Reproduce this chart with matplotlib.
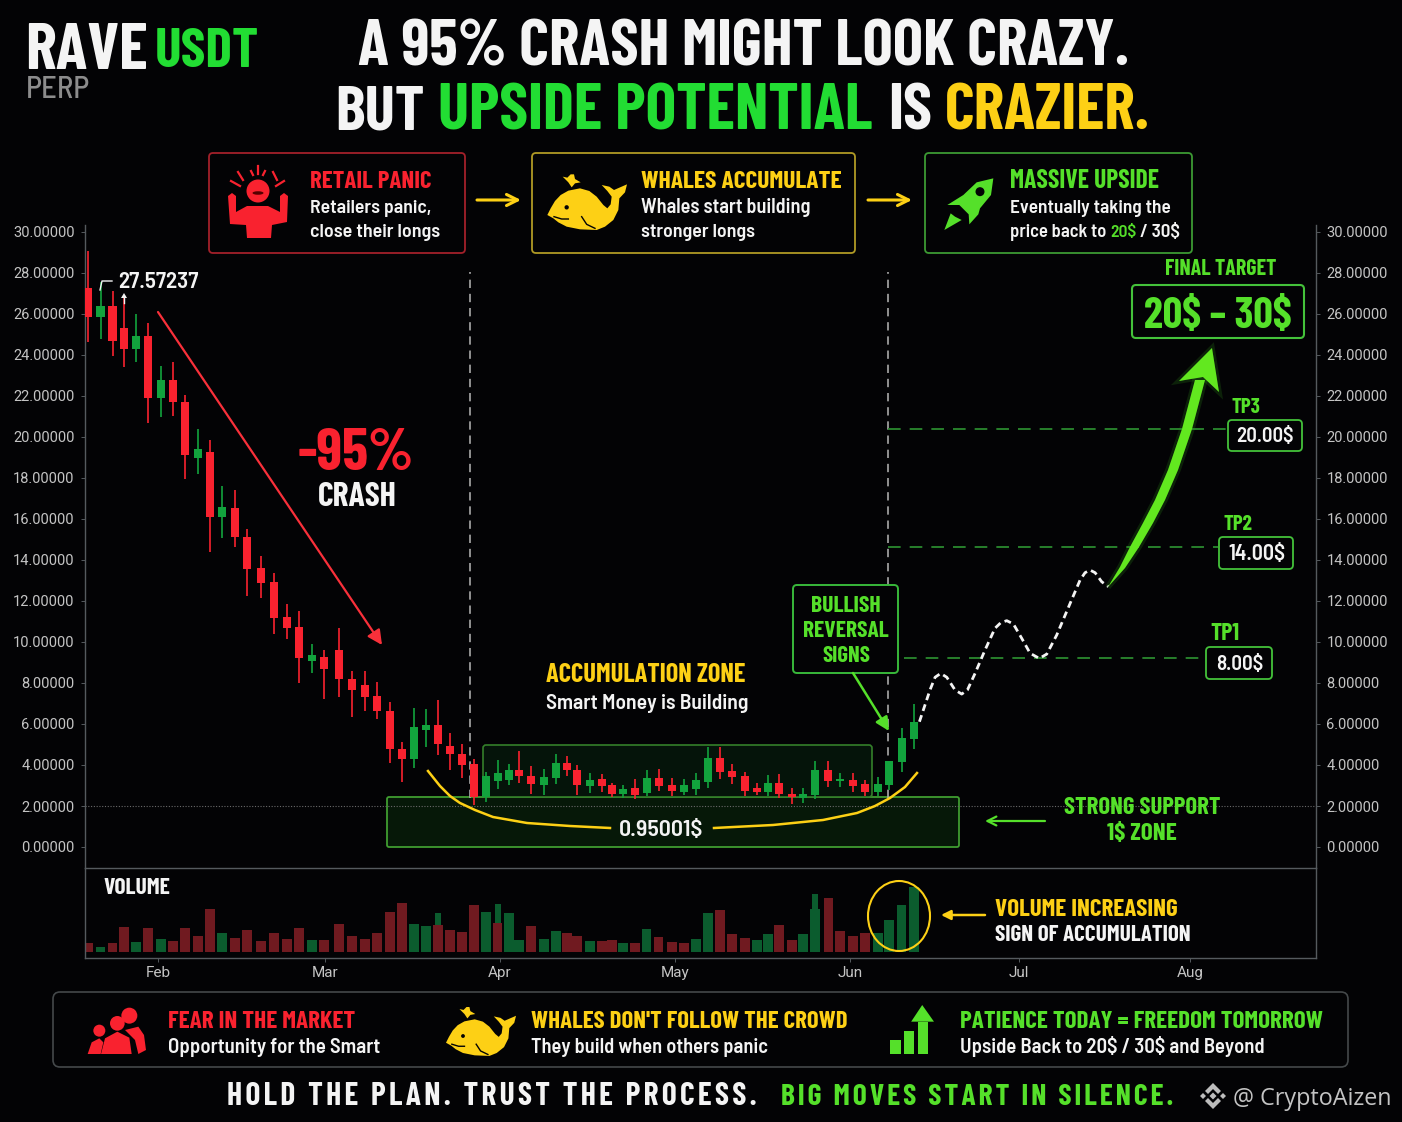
import matplotlib
matplotlib.use("Agg")
import matplotlib.pyplot as plt
from matplotlib.patches import FancyBboxPatch, Polygon, Circle, Ellipse, Rectangle

# ---------- data ----------
candle_pos = [0,1.03,2.02,2.96,3.95,4.94,6.01,7.00,7.98,9.05,10.04,11.03,12.10,13.09,14.24,15.31,16.38,17.37,18.44,19.42,20.66,21.73,22.80,23.79,24.86,25.84,26.83,27.82,28.81,29.79,30.78,31.77,32.76,33.74,34.65,
              35.47,36.46,37.53,38.52,39.42,40.25,41.32,42.30,43.13,44.03,45.02,46.00,46.99,48.07,49.05,50.04,51.03,52.02,53.00,54.07,55.06,55.97,56.87,57.94,58.85,59.84,60.91,61.89,62.96,63.95,65.02,65.93,66.99,67.98]
candle_open = [27.28,25.87,26.41,25.32,24.31,24.94,21.92,22.78,21.69,18.99,19.25,16.11,16.52,15.11,13.63,12.91,11.22,10.73,9.08,9.29,9.61,8.18,7.91,7.39,6.65,4.77,4.30,5.69,5.95,4.93,4.54,4.05,
               2.42,3.24,3.27,3.76,3.48,3.03,3.35,4.11,3.76,2.99,3.30,3.03,2.57,2.86,2.64,3.35,3.03,2.70,2.83,3.19,4.36,3.69,3.45,2.88,2.70,3.14,2.59,2.39,2.52,3.76,3.20,3.27,3.07,2.68,3.04,4.15,5.25]
candle_close = [25.87,26.41,24.70,24.31,24.94,21.92,22.78,21.71,19.12,19.40,16.11,16.60,15.14,13.55,12.90,11.16,10.69,9.21,9.37,8.69,8.18,7.66,7.32,6.64,4.77,4.28,5.87,5.97,5.01,4.54,3.99,2.42,
                3.48,3.59,3.76,3.48,3.07,3.43,4.08,3.74,3.01,3.27,2.99,2.60,2.83,2.54,3.35,2.98,2.72,3.03,3.27,4.36,3.68,3.43,2.75,2.68,3.14,2.59,2.42,2.60,3.76,3.22,3.30,2.96,2.68,3.06,4.21,5.30,6.10]
candle_high = [29.07,27.58,27.12,26.85,26.00,25.54,23.48,23.67,22.05,20.37,19.85,17.63,17.41,15.50,14.20,13.35,11.84,11.52,9.89,9.61,10.70,8.57,8.60,8.05,7.06,5.14,6.77,6.73,7.16,5.56,5.01,4.31,
               3.64,4.25,4.05,4.68,3.97,3.79,4.52,4.46,3.99,3.59,3.56,3.14,3.03,3.30,3.76,3.79,3.35,3.33,3.59,4.86,4.90,4.03,3.66,3.14,3.51,3.55,2.88,2.86,4.21,4.20,3.63,3.59,3.27,3.43,4.21,5.79,6.98]
candle_low = [24.62,24.78,23.95,23.43,23.67,20.70,20.99,21.04,17.97,18.18,14.40,15.06,14.62,12.26,12.13,10.39,10.15,8.02,8.47,7.24,7.34,6.36,6.65,6.26,4.12,3.16,3.84,4.90,4.49,3.76,3.39,2.05,
              2.21,2.81,3.03,3.14,2.57,2.54,3.06,3.48,2.54,2.65,2.70,2.46,2.37,2.33,2.49,2.75,2.49,2.52,2.55,2.86,3.32,3.06,2.49,2.52,2.49,2.39,2.08,2.16,2.34,2.94,2.91,2.70,2.49,2.49,2.78,3.68,4.77]
volume = [9,5,9,24,10,23,13,11,23,16,42,18,14,21,11,18,13,23,12,12,27,16,13,18,39,48,27,25,26,21,19,46,39,28,38,
          12,25,13,20,18,16,11,11,12,9,9,22,15,10,9,13,38,41,17,14,12,17,26,12,17,42,53,20,16,18,18,31,46,63]
volume_up = [0,1,0,0,1,0,1,0,0,0,0,1,0,0,0,0,0,0,1,0,0,0,0,0,0,0,1,1,0,0,0,0,1,0,1,
             1,0,1,1,0,0,1,0,0,1,0,1,0,0,0,1,1,0,0,0,1,1,0,0,1,1,0,0,0,0,1,1,1,1]
volume_ghost_pos = [28.81,33.74,59.84]
volume_ghost = [38,47,57]
price_ticks = [0,2,4,6,8,10,12,14,16,18,20,22,24,26,28,30]
month_labels = ["Feb","Mar","Apr","May","Jun","Jul","Aug"]
month_pos = [5.76,19.5,33.9,48.3,62.7,76.6,90.7]
proj_x = [68.43,68.89,69.30,69.72,70.18,70.68,71.36,71.91,72.38,73.01,73.83,74.65,75.12,75.62,76.16,76.85,77.54,78.30,78.91,79.73,80.83,81.65,82.06,82.47,82.89,83.43,83.98]
proj_y = [6.11,6.93,7.66,8.28,8.47,8.28,7.66,7.46,7.66,8.47,9.61,10.67,10.94,11.04,10.88,10.18,9.45,9.20,9.41,10.34,11.88,13.02,13.38,13.51,13.38,12.94,12.70]
tp_levels = [9.22,14.63,20.39]
tp_starts = [67.2,65.84,65.84]
tp_ends = [92.0,93.0,94.0]
support_level = 2.0
phase_lines = [31.44,65.84]

# ---------- palette ----------
BG="#030305"; RED="#f9222f"; GREEN="#12a33d"; LIME="#55e02a"; NEON="#22dd33"; YEL="#fdd015"; WHITE="#f4f4f4"; GRAY="#b9b9b9"
VRED="#701a20"; VGREEN="#0b5c2e"
HEAD=["Barlow Condensed","Roboto","DejaVu Sans"]
BODY=["Barlow Semi Condensed","Roboto","DejaVu Sans"]

W,H=1402,1122
fig=plt.figure(figsize=(W/100,H/100),dpi=100,facecolor=BG)
def pxaxes(l,t,r,b,z):
    return fig.add_axes([l/W,1-b/H,(r-l)/W,(b-t)/H],zorder=z)
under=pxaxes(0,0,W,H,0); under.set_xlim(0,W); under.set_ylim(H,0); under.axis("off")
ax=pxaxes(85,225,1316,868,1); vax=pxaxes(85,868,1316,958,1)
ov=pxaxes(0,0,W,H,3); ov.set_xlim(0,W); ov.set_ylim(H,0); ov.axis("off"); ov.patch.set_alpha(0)
rend=fig.canvas.get_renderer()

def T(x0,x1,y,s,color=WHITE,font=HEAD,weight="bold",spaced=False,target=ov):
    if spaced: s="\u200a".join(s)
    t=target.text(x0,y,s,color=color,family=font,weight=weight,fontsize=20,va="baseline",ha="left",zorder=10,parse_math=False)
    t.set_fontsize(20*(x1-x0)/t.get_window_extent(rend).width)
    return t
def B(x0,x1,y,s,color=WHITE):
    return T(x0,x1,y,s,color,font=BODY,weight=600)
def box(x0,y0,x1,y1,ec,fc="none",lw=1.3,r=4,target=ov,z=2):
    target.add_patch(FancyBboxPatch((x0,y0),x1-x0,y1-y0,boxstyle=f"round,pad=0,rounding_size={r}",ec=ec,fc=fc,lw=lw,zorder=z))
def arrow(x0,y0,x1,y1,color,lw=2,style="-|>",ms=18):
    ov.annotate("",xy=(x1,y1),xytext=(x0,y0),arrowprops=dict(arrowstyle=style,color=color,lw=lw,mutation_scale=ms,shrinkA=0,shrinkB=0))
def poly(pts,ox,oy,k,color,z=5):
    ov.add_patch(Polygon([(ox+x*k,oy+y*k) for x,y in pts],closed=True,fc=color,ec="none",zorder=z))

# ---------- zones behind the candles ----------
box(387,797,959,847,"#3f9c30","#061808",lw=1.3,r=2,target=under)
box(483,745,872,797,"#347f2a","#05140a",lw=1.2,r=3,target=under)

# ---------- price panel ----------
xlim=((85-88)/12.15,(1316-88)/12.15)
for a in (ax,vax):
    a.set_facecolor("none"); a.set_xlim(*xlim)
    for s in a.spines.values(): s.set_color("#555a5e"); s.set_linewidth(1)
    a.spines["top"].set_visible(False)
ax.set_ylim((847-868)/20.5,(847-225)/20.5)
ax.axhline(support_level,color="#6a6a6a",lw=0.8,ls=(0,(1,1.5)),zorder=1)
for x in phase_lines:
    ax.vlines(x,2.4,28.05,color="#a9a9a9",lw=1.2,ls=(0,(5,3.5)),zorder=2)
for p,o,c,h,l in zip(candle_pos,candle_open,candle_close,candle_high,candle_low):
    col=GREEN if c>=o else RED
    ax.vlines(p,l,h,color=col,lw=1.2,zorder=3)
    ax.bar(p,abs(c-o),bottom=min(o,c),width=0.7,color=col,zorder=4)
for lv,a,b in zip(tp_levels,tp_starts,tp_ends):
    ax.hlines(lv,a,b,color="#2a8a2e",lw=1.3,ls=(0,(7,5)),zorder=2)
ax.plot(proj_x,proj_y,color=WHITE,lw=2,ls=(0,(2.5,1.6)),zorder=5)
ax.set_xticks([])
ax.set_yticks(price_ticks)
ax.set_yticklabels([f"{v:.5f}" for v in price_ticks])
ax.tick_params(axis="y",left=True,right=True,labelleft=True,labelright=True,labelcolor="#c4c4c4",labelsize=10.5,length=3,width=0.7,pad=4.5,color="#555a5e")
for tk in ax.yaxis.get_major_ticks():
    tk.label1.set_family("Roboto"); tk.label2.set_family("Roboto")

# ---------- volume panel ----------
vax.set_ylim(-6,82)
vax.bar(volume_ghost_pos,volume_ghost,width=.5,color=VGREEN,zorder=1)
vax.bar(candle_pos,volume,width=0.75,color=[VGREEN if u else VRED for u in volume_up],zorder=2)
vax.set_yticks([])
vax.set_xticks(month_pos); vax.set_xticklabels(month_labels,family="Roboto",color="#c4c4c4",fontsize=11)
vax.tick_params(axis="x",length=3,width=0.7,color="#555a5e",pad=3)

# ---------- header ----------
T(25,148,69,"RAVE"); T(155,259,67,"USDT",NEON)
T(26,90,98,"PERP","#8c8c8c",font=BODY,weight=500)
T(358,1128,65,"A 95% CRASH MIGHT LOOK CRAZY.")
T(335,424,129,"BUT"); T(438,873,129,"UPSIDE POTENTIAL",NEON); T(888,932,129,"IS"); T(945,1150,129,"CRAZIER.",YEL)

# ---------- step boxes ----------
box(209,153,465,253,"#a3202a"); box(532,153,855,253,"#b09a25"); box(925,153,1192,253,"#3c9a33")
T(310,431,188,"RETAIL PANIC",RED); B(310,431,213,"Retailers panic,"); B(310,440,237,"close their longs")
T(641,842,188,"WHALES ACCUMULATE",YEL); B(641,810,213,"Whales start building"); B(641,755,237,"stronger longs")
T(1010,1159,188,"MASSIVE UPSIDE",LIME); B(1010,1170,213,"Eventually taking the")
B(1010,1106,237,"price back to"); B(1110,1136,237,"20$",LIME); B(1140,1180,237,"/ 30$")
arrow(477,200,521,200,YEL,2.2,"->",20); arrow(868,200,912,200,YEL,2.2,"->",20)

# icons
ov.add_patch(Circle((258,191),11.5,fc=RED,ec="none",zorder=5))
poly([(228,196),(232,193),(236,196),(236,212),(247,206),(268,206),(280,212),(280,196),(284,193),(288,196),(287,222),(272,225),(271,238),(247,238),(246,225),(230,224)],0,0,1,RED)
ov.add_patch(Ellipse((258,193),11,3.5,fc="#500",ec="none",zorder=6))
for a,b,c,d in [(231,181,240,186),(238,172,243,180),(251,171,253,175),(258,166,258,174),(265,171,263,175),(273,172,277,180),(284,181,276,186)]:
    ov.plot([a,c],[b,d],color=RED,lw=1.6,zorder=5)
WHALE=[(52,210),(62,190),(75,168),(92,150),(115,137),(150,130),(178,138),(200,155),(220,180),(232,190),(242,178),(245,155),(232,138),(215,120),(238,125),(252,135),(268,128),(291,118),(285,142),(268,160),(265,195),(250,225),(225,245),(200,255),(150,253),(110,245),(85,232),(70,220)]
SPOUT=[(98,95),(112,98),(122,88),(132,88),(135,102),(152,112),(135,115),(125,127),(115,112)]
def whale(ox,oy,k):
    poly(WHALE,ox,oy,k,YEL); poly(SPOUT,ox,oy,k,YEL)
    ov.add_patch(Circle((ox+110*k,oy+187*k),6.5*k,fc=BG,ec="none",zorder=6))
    ov.plot([ox+72*k,ox+95*k,ox+115*k],[oy+215*k,oy+222*k,oy+222*k],color=BG,lw=1,zorder=6)
    ov.plot([ox+155*k,ox+170*k,ox+195*k],[oy+215*k,oy+238*k,oy+250*k],color=BG,lw=1,zorder=6)
whale(530,145,1/3)
whale(446-52*0.293,1007-88*0.293,0.293)
rk=[(1390,100),(1340,112),(1300,150),(1252,180),(1288,180),(1316,208),(1318,238),(1345,208),(1350,190),(1383,150)]
poly([(530+x/3,145+y/3) for x,y in rk],0,0,1,LIME)
ov.add_patch(Circle((530+1350/3,145+140/3),4.5,fc=BG,ec="none",zorder=6))
poly([(530+x/3,145+y/3) for x,y in [(1243,255),(1262,205),(1275,215),(1295,225)]],0,0,1,LIME)

# ---------- crash ----------
B(118,199,288,"27.57237")
ov.plot([100,102,112],[290,281,281],color=WHITE,lw=1,zorder=6)
ov.plot([124,124],[303,296],color=WHITE,lw=1,zorder=6)
poly([(124,293),(121,298),(127,298)],0,0,1,WHITE)
arrow(158,312,382,645,"#f9303a",1.6,"-|>",22)
T(298,414,470,"-95%",RED); T(318,397,506,"CRASH")

# ---------- accumulation ----------
T(546,746,682,"ACCUMULATION ZONE",YEL); B(546,748,709,"Smart Money is Building")
ov.plot([428,440,450,460,475,493,527,570,610],[771,786,796,803,810,817,823,826,828],color=YEL,lw=1.8,zorder=6)
ov.plot([714,773,823,857,875,890,905,917],[828,825,820,813,806,798,787,773],color=YEL,lw=1.8,zorder=6)
B(619,703,836,"0.95001$")
box(793,585,898,673,"#38b83a",BG,lw=1.4)
T(811,881,612,"BULLISH",LIME); T(803,889,637,"REVERSAL",LIME); T(822,870,662,"SIGNS",LIME)
arrow(853,673,889,731,LIME,1.8,"-|>",20)

# ---------- targets ----------
T(1165,1276,275,"FINAL TARGET",LIME)
box(1132,285,1304,338,"#44c23a",BG,lw=1.5)
T(1144,1292,328,"20$ – 30$",LIME)
for (lx,tpn,bx0,by0,bx1,by1,txt,ty,tx0,tx1) in [(1231,"TP3",1228,420,1302,451,"20.00$",413,1236,1293),(1223,"TP2",1219,537,1293,569,"14.00$",530,1228,1285),(1210,"TP1",1206,647,1272,679,"8.00$",640,1216,1263)]:
    T(lx,lx+29,ty,tpn,LIME)
    box(bx0,by0,bx1,by1,"#44c23a",BG,lw=1.3)
    B(tx0,tx1,by1-9,txt)
T(1064,1220,814,"STRONG SUPPORT",LIME); T(1107,1177,840,"1$ ZONE",LIME)
arrow(1045,821,985,821,LIME,1.6,"->",16)

# big rising arrow
big=[(1108,587),(1120,567),(1130,547),(1143,523),(1155,500),(1168,470),(1182,429),(1195,380),(1205,380),(1192,429),(1178,470),(1165,500),(1153,523),(1139,547),(1125,568)]
head=[(1212,348),(1179,381),(1203,377),(1219,392)]
ov.add_patch(Polygon(big,closed=True,fc=LIME,ec="#2f8f1a",lw=4,alpha=0.22,zorder=4))
ov.add_patch(Polygon(head,closed=True,fc=LIME,ec="#2f8f1a",lw=4,alpha=0.22,zorder=4))
poly(big,0,0,1,"#62e81f"); poly(head,0,0,1,"#62e81f")

# ---------- volume notes ----------
T(103,170,894,"VOLUME")
ov.add_patch(Ellipse((899,916),62,70,fc="none",ec=YEL,lw=1.5,zorder=6))
arrow(985,915,941,915,YEL,1.8,"-|>",14)
T(995,1178,916,"VOLUME INCREASING",YEL); T(995,1191,941,"SIGN OF ACCUMULATION")

# ---------- bottom strip ----------
box(53,992,1348,1067,"#44484a",BG,lw=1.2,r=7)
T(168,355,1028,"FEAR IN THE MARKET",RED); B(168,380,1053,"Opportunity for the Smart")
T(531,847,1028,"WHALES DON'T FOLLOW THE CROWD",YEL); B(531,768,1053,"They build when others panic")
T(960,1323,1028,"PATIENCE TODAY = FREEDOM TOMORROW",LIME); B(960,1264,1053,"Upside Back to 20$ / 30$ and Beyond")
for cx,cy,r in [(178,137,18),(232,115,22),(268,92,24)]:
    ov.add_patch(Circle((40+cx/3,985+cy/3),r/3,fc=RED,ec="none",zorder=5))
poly([(40+x/3,985+y/3) for x,y in [(143,207),(155,172),(178,160),(190,172),(182,207)]],0,0,1,RED)
poly([(40+x/3,985+y/3) for x,y in [(183,207),(195,160),(232,140),(268,158),(275,207)]],0,0,1,RED)
poly([(40+x/3,985+y/3) for x,y in [(255,135),(295,125),(312,150),(318,195),(295,207),(285,165)]],0,0,1,RED)
for a,t,b in [(88,165,118),(128,137,156),(168,110,198)]:
    ov.add_patch(Rectangle((860+a/2.893,985+t/3),(b-a)/2.893,(207-t)/3,fc=LIME,ec="none",zorder=5))
poly([(860+x/2.893,985+y/3) for x,y in [(148,110),(180,60),(214,110)]],0,0,1,LIME)

# ---------- footer ----------
T(227,757,1105,"HOLD THE PLAN. TRUST THE PROCESS.",spaced=True)
T(781,1176,1105,"BIG MOVES START IN SILENCE.",LIME,spaced=True)
LOGO="#bdbdbd"
for cx,cy,r in [(1203,1096,3),(1223,1096,3),(1213,1096,3.5)]:
    poly([(cx,cy-r),(cx+r,cy),(cx,cy+r),(cx-r,cy)],0,0,1,LOGO)
poly([(1213,1083),(1221,1091),(1218,1094),(1213,1089),(1208,1094),(1205,1091)],0,0,1,LOGO)
poly([(1213,1109),(1221,1101),(1218,1098),(1213,1103),(1208,1098),(1205,1101)],0,0,1,LOGO)
T(1233,1392,1105,"@ CryptoAizen","#c4c4c4",font=["Open Sans","DejaVu Sans"],weight="normal")

fig.savefig("out.png",dpi=100,facecolor=BG)
